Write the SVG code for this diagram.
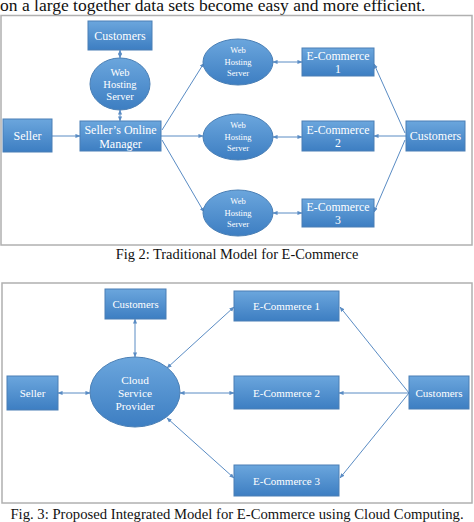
<svg xmlns="http://www.w3.org/2000/svg" width="474" height="522" viewBox="0 0 474 522">
<defs>
<linearGradient id="g" x1="0" y1="0" x2="0" y2="1">
<stop offset="0" stop-color="#6ba6dd"/>
<stop offset="1" stop-color="#3d7ec2"/>
</linearGradient>
<marker id="ah" viewBox="0 0 6 6" refX="5.5" refY="3" markerWidth="5" markerHeight="5" orient="auto-start-reverse" markerUnits="userSpaceOnUse">
<path d="M0,0.5 L6,3 L0,5.5 z" fill="#5a8cc4"/>
</marker>
<style>
.box{fill:url(#g);stroke:#4a7fb5;stroke-width:1}
.ell{fill:url(#g);stroke:#4a7fb5;stroke-width:1}
.t{font-family:"Liberation Serif","Times New Roman",serif;fill:#ffffff;text-anchor:middle}
.cap{font-family:"Liberation Serif","Times New Roman",serif;fill:#111111}
.frame{fill:#ffffff;stroke:#b0b0b0;stroke-width:1.5}
#connectors line{stroke:#5a8cc4;stroke-width:1;marker-start:url(#ah);marker-end:url(#ah)}
</style>
</defs>
<rect width="474" height="522" fill="#ffffff"/>
<text class="cap" x="0" y="11" font-size="17.5">on a large together data sets become easy and more efficient.</text>
<rect class="frame" x="1" y="15.5" width="471" height="229.5"/>
<text class="cap" x="237" y="259" font-size="14.4" text-anchor="middle">Fig 2: Traditional Model for E-Commerce</text>
<rect class="frame" x="2" y="283" width="470" height="220"/>
<text class="cap" x="237" y="519" font-size="14.7" text-anchor="middle">Fig. 3: Proposed Integrated Model for E-Commerce using Cloud Computing.</text>

<g id="connectors">
<line x1="120" y1="50" x2="120" y2="58"/>
<line x1="120" y1="110" x2="120" y2="121"/>
<line x1="52" y1="136" x2="80" y2="136" style="marker-start:none"/>
<line x1="162" y1="130" x2="204" y2="63" style="marker-start:none"/>
<line x1="161" y1="136" x2="203" y2="136" style="marker-start:none"/>
<line x1="162" y1="140" x2="204" y2="212" style="marker-start:none"/>
<line x1="273" y1="62" x2="302" y2="62"/>
<line x1="273" y1="137" x2="302" y2="137"/>
<line x1="273" y1="213" x2="302" y2="213"/>
<line x1="405" y1="133" x2="374" y2="64" style="marker-start:none"/>
<line x1="406" y1="136" x2="374" y2="136" style="marker-start:none"/>
<line x1="405" y1="140" x2="374" y2="212" style="marker-start:none"/>

<line x1="135" y1="319" x2="135" y2="357"/>
<line x1="58" y1="393" x2="90" y2="393"/>
<line x1="167" y1="368" x2="234" y2="307"/>
<line x1="180" y1="393" x2="234" y2="393"/>
<line x1="167" y1="418" x2="234" y2="478"/>
<line x1="409" y1="393" x2="340" y2="307" style="marker-start:none"/>
<line x1="409" y1="393" x2="339" y2="393" style="marker-start:none"/>
<line x1="409" y1="393" x2="340" y2="478" style="marker-start:none"/>
</g>

<g id="f2-customers-top"><rect class="box" x="88" y="21" width="64" height="29"/><text class="t" x="120" y="40" font-size="12">Customers</text></g>
<g id="f2-whs-top"><ellipse class="ell" cx="120" cy="84" rx="30" ry="26"/><text class="t" font-size="10.5"><tspan x="120" y="76">Web</tspan><tspan x="120" y="88">Hosting</tspan><tspan x="120" y="100">Server</tspan></text></g>
<g id="f2-seller"><rect class="box" x="3" y="119" width="49" height="33"/><text class="t" x="27.5" y="140" font-size="12">Seller</text></g>
<g id="f2-manager"><rect class="box" x="80" y="121" width="81" height="30"/><text class="t" font-size="12"><tspan x="120.5" y="134">Seller’s Online</tspan><tspan x="120.5" y="148">Manager</tspan></text></g>
<g id="f2-whs1"><ellipse class="ell" cx="238" cy="62" rx="35" ry="23"/><text class="t" font-size="8.5"><tspan x="238" y="53">Web</tspan><tspan x="238" y="65">Hosting</tspan><tspan x="238" y="76">Server</tspan></text></g>
<g id="f2-whs2"><ellipse class="ell" cx="238" cy="137" rx="35" ry="23"/><text class="t" font-size="8.5"><tspan x="238" y="128">Web</tspan><tspan x="238" y="140">Hosting</tspan><tspan x="238" y="151">Server</tspan></text></g>
<g id="f2-whs3"><ellipse class="ell" cx="238" cy="213" rx="35" ry="23"/><text class="t" font-size="8.5"><tspan x="238" y="204">Web</tspan><tspan x="238" y="216">Hosting</tspan><tspan x="238" y="227">Server</tspan></text></g>
<g id="f2-ec1"><rect class="box" x="302" y="48" width="72" height="28"/><text class="t" font-size="11.8"><tspan x="338" y="60">E-Commerce</tspan><tspan x="338" y="73">1</tspan></text></g>
<g id="f2-ec2"><rect class="box" x="302" y="121" width="72" height="30"/><text class="t" font-size="11.8"><tspan x="338" y="134">E-Commerce</tspan><tspan x="338" y="147">2</tspan></text></g>
<g id="f2-ec3"><rect class="box" x="302" y="199" width="72" height="28"/><text class="t" font-size="11.8"><tspan x="338" y="211">E-Commerce</tspan><tspan x="338" y="224">3</tspan></text></g>
<g id="f2-customers-right"><rect class="box" x="406" y="121" width="59" height="30"/><text class="t" x="435.5" y="140" font-size="12">Customers</text></g>

<g id="f3-customers-top"><rect class="box" x="105" y="289" width="61" height="30"/><text class="t" x="135.5" y="308" font-size="10.8">Customers</text></g>
<g id="f3-cloud"><ellipse class="ell" cx="135" cy="392" rx="45" ry="35"/><text class="t" font-size="11.3"><tspan x="135" y="384">Cloud</tspan><tspan x="135" y="397">Service</tspan><tspan x="135" y="410">Provider</tspan></text></g>
<g id="f3-seller"><rect class="box" x="7" y="376" width="51" height="34"/><text class="t" x="32.5" y="397" font-size="11">Seller</text></g>
<g id="f3-ec1"><rect class="box" x="234" y="291" width="105" height="30"/><text class="t" x="286.5" y="310" font-size="11">E-Commerce 1</text></g>
<g id="f3-ec2"><rect class="box" x="234" y="376" width="105" height="33"/><text class="t" x="286.5" y="397" font-size="11">E-Commerce 2</text></g>
<g id="f3-ec3"><rect class="box" x="234" y="465" width="105" height="31"/><text class="t" x="286.5" y="485" font-size="11">E-Commerce 3</text></g>
<g id="f3-customers-right"><rect class="box" x="409" y="376" width="60" height="33"/><text class="t" x="439" y="397" font-size="11">Customers</text></g>
</svg>
